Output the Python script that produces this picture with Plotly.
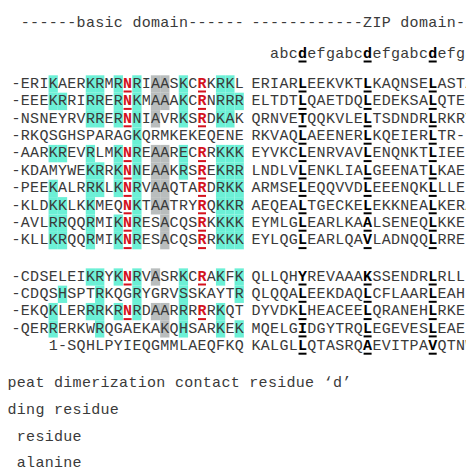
import plotly.graph_objects as go

basic1 = ["-ERIKAERKRMRNRIAASKCRKRKL", "-EEEKRRIRRERNKMAAAKCRNRRR", "-NSNEYRVRRERNNIAVRKSRDKAK",
          "-RKQSGHSPARAGKQRMKEKEQENE", "-AARKREVRLMKNREAARECRRKKK", "-KDAMYWEKRRKNNEAAKRSREKRR",
          "-PEEKALRRKLKNRVAAQTARDRKK", "-KLDKKLKKMEQNKTAATRYRQKKR", "-AVLRRQQRMIKNRESACQSRKKKK",
          "-KLLKRQQRMIKNRESACQSRRKKK"]
zip1 = ["ERIARLEEKVKTLKAQNSELASTAN", "ELTDTLQAETDQLEDEKSALQTEIA", "QRNVETQQKVLELTSDNDRLRKRVE",
        "RKVAQLAEENERLKQEIERLTR-17", "EYVKCLENRVAVLENQNKTLIEELK", "LNDLVLENKLIALGEENATLKAELL",
        "ARMSELEQQVVDLEEENQKLLLENQ", "AEQEALTGECKELEKKNEALKERAD", "EYMLGLEARLKAALSENEQLKKENG",
        "EYLQGLEARLQAVLADNQQLRRENA"]
marks1 = ["....c...cc.crc.gg.c.r.cc.", "....cc..cc.crc.gg.c.r.ccc", "........cc.crc.g..c.r.cc.",
          ".............c...........", "....cc..c..crc.gg.c.r.ccc", "........cc.crc.gg.c.r.ccc",
          "....c...cc.crc.gg...r.ccc", "....cc..c...rc.gg...r.ccc", "....cc..c..crc..g...r.ccc",
          "....cc..c..crc..g...r.ccc"]
basic2 = ["-CDSELEIKRYKNRVASRKCRAKFK", "-CDQSHSPTRKQGRYGRVSSKAYTR", "-EKQKLERRRKRNRDAARRRRRKQT",
          "-QERRERKWRQGAEKAKQHSARKEK", "    1-SQHLPYIEQGMMLAEQFKQ"]
zip2 = ["QLLQHYREVAAAKSSENDRLRLLLK", "QLQQALEEKDAQLCFLAARLEAHKE", "DYVDKLHEACEELQRANEHLRKEIR",
        "MQELGIDGYTRQLEGEVESLEAERR", "KALGLLQTASRQAEVITPAVQTNWQ"]
marks2 = ["........cc.crc.g..c.r.c.c", ".....c...c...c....c.....c", "....c...cc.crc.gg.c.r.c..",
          "....c....c......g.c...c.c", "........................."]
heptad = "  abcdefgabcdefgabcdefgab"
dpos = [5, 12, 19]
legend = ["peat dimerization contact residue ‘d’", "ding residue", " residue", " alanine"]

CW = 9.3; X0B = 8; X0Z = 248
Y1 = 76; DY1 = 17.4; Y2 = 269; DY2 = 17.3
FONT = "Liberation Mono"; FS = 15
TXT = "#3a3a3a"; RED = "#d4121e"; CYAN = "#6cf0d6"; GRAY = "#b9bdbd"

norm = {"x": [], "y": [], "t": []}
red = {"x": [], "y": [], "t": []}
bold = {"x": [], "y": [], "t": []}
shapes = []

def add_row(seq, mk, zseq, y, dy):
    for i, ch in enumerate(seq):
        if ch == " ":
            continue
        x = X0B + i * CW
        m = mk[i]
        if m in "cg":
            shapes.append(dict(type="rect", x0=x - CW / 2, x1=x + CW / 2, y0=y - dy / 2, y1=y + dy / 2,
                               fillcolor=CYAN if m == "c" else GRAY, line_width=0, layer="below"))
        if m == "r":
            red["x"].append(x); red["y"].append(y); red["t"].append(ch)
            shapes.append(dict(type="line", x0=x - 4, x1=x + 4, y0=y + 7.5, y1=y + 7.5,
                               line=dict(color=RED, width=2)))
        else:
            norm["x"].append(x); norm["y"].append(y); norm["t"].append(ch)
    for i, ch in enumerate(zseq):
        x = X0Z + i * CW
        if i in dpos:
            bold["x"].append(x); bold["y"].append(y); bold["t"].append(ch)
            shapes.append(dict(type="line", x0=x - 4, x1=x + 4, y0=y + 7.5, y1=y + 7.5,
                               line=dict(color="black", width=2)))
        else:
            norm["x"].append(x); norm["y"].append(y); norm["t"].append(ch)

for k in range(len(basic1)):
    add_row(basic1[k], marks1[k], zip1[k], Y1 + k * DY1, DY1)
for k in range(len(basic2)):
    add_row(basic2[k], marks2[k], zip2[k], Y2 + k * DY2, DY2)

# heptad header
for i, ch in enumerate(heptad):
    if ch == " ":
        continue
    x = X0Z + i * CW
    if i in dpos:
        bold["x"].append(x); bold["y"].append(46); bold["t"].append(ch)
        shapes.append(dict(type="line", x0=x - 4, x1=x + 4, y0=53.5, y1=53.5, line=dict(color="black", width=2)))
    else:
        norm["x"].append(x); norm["y"].append(46); norm["t"].append(ch)

def text_line(s, x0, y):
    for i, ch in enumerate(s):
        if ch != " ":
            norm["x"].append(x0 + i * CW); norm["y"].append(y); norm["t"].append(ch)

text_line(" ------basic domain------", X0B, 15)
text_line("------------ZIP domain---", X0Z, 15)
for j, (s, y) in enumerate(zip(legend, [375, 402, 429, 455])):
    text_line(s, 4, y)

fig = go.Figure()
fig.add_trace(go.Scatter(x=norm["x"], y=norm["y"], text=norm["t"], mode="text",
                         textfont=dict(family=FONT, size=FS, color=TXT), hoverinfo="skip"))
fig.add_trace(go.Scatter(x=red["x"], y=red["y"], text=["<b>%s</b>" % t for t in red["t"]], mode="text",
                         textfont=dict(family=FONT, size=FS, color=RED), hoverinfo="skip"))
fig.add_trace(go.Scatter(x=bold["x"], y=bold["y"], text=["<b>%s</b>" % t for t in bold["t"]], mode="text",
                         textfont=dict(family=FONT, size=FS, color="black"), hoverinfo="skip"))
fig.update_layout(width=474, height=474, margin=dict(l=0, r=0, t=0, b=0), showlegend=False,
                  plot_bgcolor="white", paper_bgcolor="white", shapes=shapes,
                  xaxis=dict(range=[0, 474], visible=False, fixedrange=True),
                  yaxis=dict(range=[474, 0], visible=False, fixedrange=True))
fig.write_html("out.html")
